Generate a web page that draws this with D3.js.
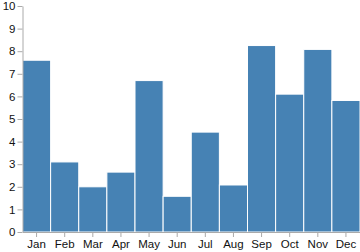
<!DOCTYPE html>
<html>
<head>
<meta charset="utf-8">
<script src="https://cdn.jsdelivr.net/npm/d3@7"></script>
<style>
  body { margin: 0; background: #fff; }
  svg { display: block; font-family: "Liberation Sans", Arial, sans-serif; }
  .axis path, .axis line { stroke: #aaa; }
  .axis text { fill: #111; font-size: 11.5px; }
  .bar { fill: steelblue; stroke: #fff; stroke-width: 1; }
</style>
</head>
<body>
<div id="container"></div>
<script>
const months = ['Jan', 'Feb', 'Mar', 'Apr', 'May', 'Jun', 'Jul', 'Aug', 'Sep', 'Oct', 'Nov', 'Dec']
const values = [7.6, 3.1, 2.0, 2.65, 6.7, 1.58, 4.42, 2.08, 8.25, 6.1, 8.08, 5.82]
const yTicks = [0, 1, 2, 3, 4, 5, 6, 7, 8, 9, 10]

const w = 360
const h = 252
const margin = { top: 6, right: 0, bottom: 20, left: 22.5 }

const svg = d3.select('#container')
  .append('svg')
  .attr('width', w)
  .attr('height', h)

const xScale = d3.scaleBand()
  .domain(months)
  .range([margin.left, w - margin.right])
  .padding(0)

const yScale = d3.scaleLinear()
  .domain([0, 10])
  .range([h - margin.bottom, margin.top])

svg.selectAll('.bar')
  .data(values)
  .enter().append('rect')
  .attr('class', 'bar')
  .attr('x', (d, i) => xScale(months[i]))
  .attr('y', d => yScale(d))
  .attr('width', xScale.bandwidth())
  .attr('height', d => yScale(0) - yScale(d))

const xAxis = d3.axisBottom(xScale)
  .tickSizeInner(5)
  .tickSizeOuter(0)
  .tickPadding(3)

svg.append('g')
  .attr('class', 'axis')
  .attr('transform', 'translate(0,' + (h - margin.bottom) + ')')
  .call(xAxis)

const yAxis = d3.axisLeft(yScale)
  .tickValues(yTicks)
  .tickSizeInner(5)
  .tickSizeOuter(0)
  .tickPadding(2)

svg.append('g')
  .attr('class', 'axis')
  .attr('transform', 'translate(' + margin.left + ',0)')
  .call(yAxis)
</script>
</body>
</html>
